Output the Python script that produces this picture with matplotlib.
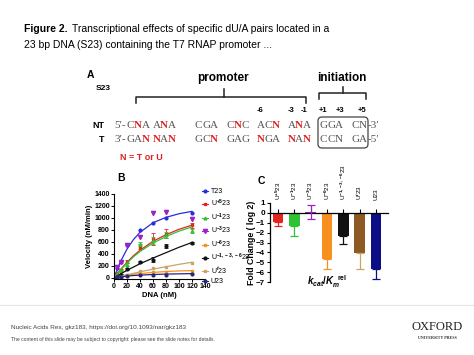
import matplotlib
matplotlib.use('Agg')
import matplotlib.pyplot as plt
from matplotlib.lines import Line2D
from matplotlib.patches import FancyBboxPatch

plt.rcParams['font.family'] = 'Liberation Sans'
plt.rcParams['mathtext.fontset'] = 'custom'
plt.rcParams['mathtext.rm'] = 'Liberation Sans:bold'
plt.rcParams['mathtext.bf'] = 'Liberation Sans:bold'
plt.rcParams['mathtext.it'] = 'Liberation Sans:italic:bold'

# ---- panel A: sequence ----
nt_groups = ['CNA', 'ANA', 'CGA', 'CNC', 'ACN', 'ANA', 'GGA', 'CN']
t_groups = ['GAN', 'NAN', 'GCN', 'GAG', 'NGA', 'NAN', 'CCN', 'GA']
group_x = [127, 153, 195, 227, 257, 288, 320, 352]
positions = ['-6', '-3', '-1', '+1', '+3', '+5']
position_x = [260, 291, 304, 323, 340, 362]

# ---- panel B: kinetics ----
dna = [0, 5, 10, 20, 40, 60, 80, 120]
series_b = ['T23', r'U$^{+5}$23', r'U$^{-1}$23', r'U$^{-3}$23', r'U$^{-6}$23',
            r'U$^{-1,-3,-6}$23', r'U$^{t}$23', 'U23']
vel_t23 = [0, 160, 265, 540, 800, 910, 995, 1080]
vel_p5 = [0, 80, 130, 270, 520, 650, 740, 880]
vel_m1 = [0, 60, 110, 220, 560, 620, 720, 780]
vel_m3 = [0, 180, 260, 540, 680, 1090, 1100, 980]
vel_m6 = [0, 5, 10, 40, 70, 90, 100, 110]
vel_m136 = [0, 20, 50, 150, 260, 300, 530, 580]
vel_ut = [0, 10, 20, 50, 110, 165, 185, 240]
vel_u23 = [0, 10, 20, 30, 40, 50, 55, 60]
err_p5 = [0, 10, 15, 30, 40, 100, 70, 40]
err_m1 = [0, 10, 15, 25, 30, 60, 50, 30]
err_m136 = [0, 5, 10, 20, 20, 40, 30, 20]

fit_x = [0, 10, 20, 30, 40, 60, 80, 100, 120]
fit_t23 = [0, 270, 480, 640, 760, 920, 1010, 1070, 1110]
fit_p5 = [0, 140, 260, 370, 460, 610, 720, 810, 880]
fit_m1 = [0, 130, 245, 350, 440, 580, 690, 780, 850]
fit_m6 = [0, 25, 45, 60, 70, 90, 105, 115, 120]
fit_m136 = [0, 65, 125, 180, 235, 330, 420, 510, 590]
fit_ut = [0, 25, 50, 75, 100, 145, 185, 225, 260]
fit_u23 = [0, 15, 28, 38, 45, 55, 62, 66, 70]

# ---- panel C: fold change ----
labels_c = [r'U$^{+5}$23', r'U$^{-1}$23', r'U$^{-3}$23', r'U$^{-6}$23',
            r'U$^{-1,-3,-6}$23', r'U$^{t}$23', 'U23']
fold = [-0.95, -1.3, 0.05, -4.65, -2.35, -4.05, -5.65]
fold_err = [0.4, 1.05, 0.7, 1.0, 0.85, 1.6, 1.0]

c_blue = '#2b2bd9'
c_red = '#e8231e'
c_green = '#2ec234'
c_purple = '#9c22c8'
c_orange = '#f7901e'
c_black = '#111111'
c_tan = '#c9a36a'
c_navy = '#262680'
c_brown = '#8c5a22'
c_navybar = '#0d0d85'

W, H = 474, 355
fig = plt.figure(figsize=(W / 100, H / 100), dpi=100)
fig.patch.set_facecolor('white')

ov = fig.add_axes([0, 0, 1, 1])
ov.set_xlim(0, W)
ov.set_ylim(H, 0)
ov.axis('off')

# title
ov.text(24, 29, 'Figure 2.', fontsize=7.5, fontweight='bold', va='center')
ov.text(72, 29, 'Transcriptional effects of specific dU/A pairs located in a',
        fontsize=7.5, va='center')
ov.text(24, 45, '23 bp DNA (S23) containing the T7 RNAP promoter ...',
        fontsize=7.5, va='center')

# panel A
ov.text(90, 75, 'A', fontsize=7.5, fontweight='bold', va='center', ha='center')
ov.text(103, 88, 'S23', fontsize=6, fontweight='bold', va='center', ha='center')
ov.text(223, 78, 'promoter', fontsize=8.5, fontweight='bold', va='center', ha='center')
ov.text(342, 78, 'initiation', fontsize=8.5, fontweight='bold', va='center', ha='center')
bk = dict(color='#222222', lw=1.1)
ov.plot([136, 136, 306, 306], [103, 97, 97, 103], **bk)
ov.plot([224, 224], [97, 89], **bk)
ov.plot([319, 319, 366, 366], [99, 93, 93, 99], **bk)
ov.plot([343, 343], [93, 87], **bk)
for p, px in zip(positions, position_x):
    ov.text(px, 110, p, fontsize=5.5, fontweight='bold', ha='center', va='center')

seq_gray = '#555555'
seq_red = '#e02020'
step = 7.4
ov.text(98, 125, 'NT', fontsize=6.5, fontweight='bold', ha='center', va='center')
ov.text(102, 140, 'T', fontsize=6.5, fontweight='bold', ha='center', va='center')
for row_y, groups, pre, post in [(125, nt_groups, "5\u2032-", "-3\u2032"),
                                  (140, t_groups, "3\u2032-", "-5\u2032")]:
    ov.text(126, row_y, pre, fontsize=8, family='Liberation Serif',
            color=seq_gray, va='center', ha='right')
    for gi, (g, gx) in enumerate(zip(groups, group_x)):
        for ci, ch in enumerate(g):
            red = ch == 'N' and gi < 6
            ov.text(gx + ci * step + step / 2, row_y, ch, fontsize=8,
                    family='Liberation Serif', ha='center',
                    color=seq_red if red else seq_gray,
                    fontweight='bold' if red else 'normal', va='center')
    ov.text(367.5, row_y, post, fontsize=8, family='Liberation Serif',
            color=seq_gray, va='center')
ov.add_patch(FancyBboxPatch((318, 117), 50, 31, boxstyle='round,pad=0,rounding_size=4',
                            fc='none', ec='#444444', lw=0.9))
ov.text(120, 157, 'N = T or U', fontsize=6.5, fontweight='bold', color=seq_red, va='center')

# footer
ov.plot([0, W], [305, 305], color='#e4e4e4', lw=0.8)
ov.text(11, 327, 'Nucleic Acids Res, gkz183, https://doi.org/10.1093/nar/gkz183',
        fontsize=4.6, color='#444444', va='center')
ov.text(11, 339, 'The content of this slide may be subject to copyright: please see the slide notes for details.',
        fontsize=3.6, color='#444444', va='center')
ov.text(437, 327, 'OXFORD', fontsize=9, family='Liberation Serif', color='#222222',
        ha='center', va='center')
ov.text(437, 338, 'UNIVERSITY PRESS', fontsize=3, family='Liberation Serif',
        fontweight='bold', color='#333333', ha='center', va='center')

# ---- panel B ----
axb = fig.add_axes([114 / W, 1 - 279 / H, 91 / W, 85 / H])
b_series = [
    (vel_t23, None, fit_t23, c_blue, 'o'),
    (vel_p5, err_p5, fit_p5, c_red, 's'),
    (vel_m1, err_m1, fit_m1, c_green, '^'),
    (vel_m3, None, None, c_purple, 'v'),
    (vel_m6, None, fit_m6, c_orange, 's'),
    (vel_m136, err_m136, fit_m136, c_black, 'o'),
    (vel_ut, None, fit_ut, c_tan, 's'),
    (vel_u23, None, fit_u23, c_navy, 'o'),
]
handles = []
for (vals, err, fit, col, mk), lab in zip(b_series, series_b):
    if fit is not None:
        axb.plot(fit_x, fit, color=col, lw=0.9)
    if err is not None:
        axb.errorbar(dna, vals, yerr=err, fmt='none', ecolor=col, elinewidth=0.6,
                     capsize=1.2, capthick=0.6)
    axb.plot(dna, vals, linestyle='none', marker=mk, color=col, ms=2.0 if mk != 'v' else 3)
    handles.append(Line2D([], [], color=col, lw=0.8, marker=mk,
                          ms=2.0 if mk != 'v' else 3, label=lab))
axb.set_xlim(0, 140)
axb.set_ylim(-20, 1400)
axb.set_xticks(range(0, 141, 20))
axb.set_yticks(range(0, 1401, 200))
for s in ['top', 'right']:
    axb.spines[s].set_visible(False)
for s in ['left', 'bottom']:
    axb.spines[s].set_linewidth(0.8)
axb.tick_params(labelsize=5, length=2, width=0.7, pad=1)
for t in axb.get_xticklabels() + axb.get_yticklabels():
    t.set_fontweight('bold')
axb.set_xlabel('DNA (nM)', fontsize=5.5, fontweight='bold', labelpad=1)
axb.set_ylabel('Velocity (nM/min)', fontsize=5.5, fontweight='bold', labelpad=1)
ov.text(117, 178, 'B', fontsize=7.5, fontweight='bold', va='center')
fig.legend(handles=handles, loc='upper left', bbox_to_anchor=(199 / W, 1 - 185 / H),
           frameon=False, fontsize=5, handlelength=0.8, handletextpad=0.4,
           labelspacing=0.32, borderpad=0)

# ---- panel C ----
axc = fig.add_axes([270 / W, 1 - 282.3 / H, 118 / W, 79.6 / H])
bar_cols = [c_red, c_green, c_purple, c_orange, c_black, c_brown, c_navybar]
err_cols = [c_red, c_green, c_purple, c_orange, c_black, c_tan, c_navybar]
xs = list(range(len(fold)))
axc.bar(xs, fold, width=0.65, color=bar_cols, zorder=2)
for x, v, e, ec in zip(xs, fold, fold_err, err_cols):
    up = e if v >= 0 else 0
    axc.errorbar(x, v, yerr=[[e], [up]], fmt='none', ecolor=ec, elinewidth=0.9,
                 capsize=3, capthick=0.9, zorder=3)
axc.set_xlim(-0.5, 6.75)
axc.set_ylim(-7, 1)
axc.set_yticks(range(-7, 2))
axc.set_xticks(xs)
axc.set_xticklabels([])
axc.spines['bottom'].set_position(('data', 0))
for s in ['top', 'right']:
    axc.spines[s].set_visible(False)
axc.spines['left'].set_linewidth(0.9)
axc.spines['bottom'].set_linewidth(0.9)
axc.tick_params(axis='y', labelsize=5.8, length=2.5, width=0.8, pad=1)
axc.tick_params(axis='x', direction='in', length=3, width=0.8)
for t in axc.get_yticklabels():
    t.set_fontweight('bold')
axc.set_ylabel('Fold Change ( log 2)', fontsize=6.3, fontweight='bold', labelpad=0)
for x, lab in zip(xs, labels_c):
    axc.text(x, 1.3, lab, rotation=90, fontsize=4.6, ha='center', va='bottom')
axc.text(3.0, -6.9, r'$k_{cat}/K_{m}^{\ \ \mathrm{rel}}$', fontsize=7, ha='center',
         va='center')
ov.text(258, 181, 'C', fontsize=7.5, fontweight='bold', va='center')

fig.savefig('out.png', dpi=100, facecolor='white')
